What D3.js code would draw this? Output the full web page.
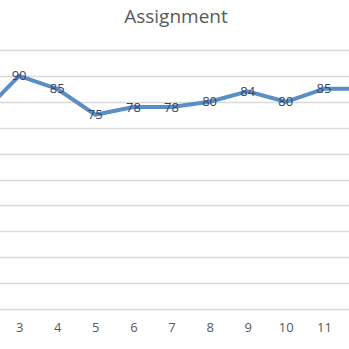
<!DOCTYPE html>
<meta charset="utf-8">
<script src="https://d3js.org/d3.v7.min.js"></script>
<style>
  body { margin: 0; background: #fff; }
</style>
<body>
<div id="chart"></div>
<script>
  var months = [2, 3, 4, 5, 6, 7, 8, 9, 10, 11, 12];
  var scores = [75, 90, 85, 75, 78, 78, 80, 84, 80, 85, 85];
  var tickMonths = [3, 4, 5, 6, 7, 8, 9, 10, 11];
  var yTicks = [0, 10, 20, 30, 40, 50, 60, 70, 80, 90, 100];
  var title = "Assignment";

  var width = 349, height = 349;

  var svg = d3.select("#chart")
    .append("svg")
    .attr("width", width)
    .attr("height", height);

  var x = d3.scaleLinear()
    .domain([2, 12])
    .range([-19, 362]);

  var y = d3.scaleLinear()
    .domain([0, 100])
    .range([309, 50]);

  // gridlines
  svg.append("g")
    .selectAll("line")
    .data(yTicks)
    .enter()
    .append("line")
    .attr("x1", 0)
    .attr("x2", width)
    .attr("y1", function (d) { return Math.round(y(d)) + 0.5 })
    .attr("y2", function (d) { return Math.round(y(d)) + 0.5 })
    .attr("stroke", "#d9d9d9")
    .attr("stroke-width", 1.5);

  // x axis labels
  var xAxis = svg.append("g")
    .attr("transform", "translate(0,309)")
    .call(d3.axisBottom(x).tickValues(tickMonths).tickSize(0).tickPadding(14));
  xAxis.select(".domain").remove();
  xAxis.selectAll("text")
    .style("font-family", "'Open Sans', sans-serif")
    .style("font-size", "13px")
    .style("fill", "#595959");

  var line = d3.line()
    .x(function (d, i) { return x(months[i]) })
    .y(function (d) { return y(d) });

  svg.append("path")
    .datum(scores)
    .attr("d", line)
    .attr("fill", "none")
    .attr("stroke", "#5b8ec5")
    .attr("stroke-width", 4)
    .attr("stroke-linejoin", "round");

  // data labels on the visible points only
  var labelled = scores
    .map(function (d, i) { return { m: months[i], v: d } })
    .filter(function (d) { return tickMonths.indexOf(d.m) >= 0 });

  svg.append("g")
    .selectAll("text")
    .data(labelled)
    .enter()
    .append("text")
    .attr("x", function (d) { return x(d.m) })
    .attr("y", function (d) { return y(d.v) })
    .attr("dy", "0.35em")
    .attr("text-anchor", "middle")
    .style("font-family", "'Open Sans', sans-serif")
    .style("font-size", "13px")
    .style("fill", "#34456a")
    .text(function (d) { return d.v });

  svg.append("text")
    .attr("x", 176)
    .attr("y", 23)
    .attr("text-anchor", "middle")
    .style("font-family", "'Open Sans', sans-serif")
    .style("font-size", "19px")
    .style("fill", "#595959")
    .text(title);
</script>
</body>
